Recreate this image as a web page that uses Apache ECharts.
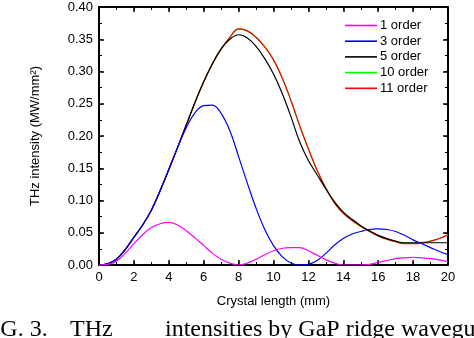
<!DOCTYPE html>
<html><head><meta charset="utf-8">
<script src="https://cdn.jsdelivr.net/npm/echarts@6/dist/echarts.min.js"></script>
<style>html,body{margin:0;padding:0;background:#fff}#c{width:474px;height:338px}</style>
</head><body><div id="c"></div>
<script>
var lengthMM = [0,0.5,1,1.5,2,2.5,3,3.5,4,4.5,5,5.5,6,6.5,7,7.5,8,8.5,9,9.5,10,10.5,11,11.5,12,12.5,13,13.5,14,14.5,15,15.5,16,16.5,17,17.5,18,18.5,19,19.5,20];
var order1 = [0,0.001,0.006,0.018,0.033,0.047,0.058,0.064,0.066,0.062,0.053,0.042,0.030,0.018,0.009,0.003,0.000,0.003,0.009,0.016,0.022,0.026,0.027,0.027,0.022,0.015,0.008,0.003,0.000,0.000,0.000,0.001,0.004,0.007,0.010,0.011,0.012,0.011,0.010,0.008,0.005];
var order3 = [0,0.002,0.009,0.024,0.043,0.062,0.085,0.115,0.148,0.182,0.213,0.236,0.247,0.248,0.235,0.208,0.168,0.127,0.088,0.055,0.030,0.013,0.003,0.000,0.001,0.007,0.018,0.031,0.041,0.048,0.052,0.055,0.056,0.055,0.052,0.046,0.039,0.033,0.027,0.021,0.016];
var order5 = [0,0.002,0.009,0.024,0.043,0.062,0.085,0.115,0.148,0.182,0.217,0.252,0.284,0.312,0.335,0.350,0.357,0.352,0.339,0.320,0.296,0.266,0.230,0.191,0.162,0.140,0.118,0.098,0.082,0.071,0.061,0.053,0.046,0.041,0.037,0.0345,0.0345,0.0345,0.0345,0.0345,0.0345];
var order10 = [0,0.002,0.009,0.024,0.043,0.062,0.085,0.115,0.148,0.182,0.217,0.252,0.284,0.312,0.335,0.353,0.366,0.363,0.353,0.338,0.318,0.290,0.255,0.216,0.180,0.147,0.119,0.096,0.080,0.069,0.060,0.052,0.045,0.040,0.036,0.034,0.034,0.035,0.037,0.041,0.047];
var order11 = [0,0.002,0.009,0.024,0.043,0.062,0.085,0.115,0.148,0.182,0.217,0.252,0.284,0.312,0.335,0.353,0.366,0.363,0.353,0.338,0.318,0.290,0.255,0.216,0.180,0.147,0.119,0.096,0.080,0.069,0.060,0.052,0.045,0.040,0.036,0.033,0.033,0.034,0.037,0.041,0.047];
var seriesNames = ['1 order','3 order','5 order','10 order','11 order'];
var seriesColors = ['#ff00ff','#0000ff','#000000','#00ff00','#ff0000'];
var yTicks = ['0.00','0.05','0.10','0.15','0.20','0.25','0.30','0.35','0.40'];
var xTicks = ['0','2','4','6','8','10','12','14','16','18','20'];
var captionParts = ['FIG. 3.', 'THz', 'intensities by GaP ridge waveguide based'];

var allData = [order1, order3, order5, order10, order11];
function pairs(arr){ return lengthMM.map(function(x,i){ return [x, arr[i]]; }); }
var font = 'Liberation Sans, Arial, sans-serif';
var serif = 'Liberation Serif, Times New Roman, serif';
var chart = echarts.init(document.getElementById('c'));
function tickAxis(base, pos, interval, len, width, showLine){
  var o = {
    type:'value', position:pos, interval:interval,
    axisLine:{show:showLine, onZero:false, lineStyle:{color:'#000', width:2}},
    axisTick:{show:true, inside:true, length:len, lineStyle:{color:'#000', width:width}},
    splitLine:{show:false}, axisLabel:{show:false}
  };
  for (var k in base) o[k] = base[k];
  return o;
}
var xb = {min:0, max:20}, yb = {min:0, max:0.40};
var xMain = tickAxis(xb, 'bottom', 2, 5, 1.5, true);
xMain.axisLabel = {show:true, fontFamily:font, fontSize:13, color:'#000', margin:6,
  formatter:function(v){ return xTicks[Math.round(v/2)]; }};
xMain.name = 'Crystal length (mm)'; xMain.nameLocation = 'middle'; xMain.nameGap = 30;
xMain.nameTextStyle = {fontFamily:font, fontSize:13, color:'#000'};
var yMain = tickAxis(yb, 'left', 0.05, 5, 1.5, true);
yMain.axisLabel = {show:true, fontFamily:font, fontSize:13, color:'#000', margin:6,
  formatter:function(v){ return yTicks[Math.round(v/0.05)]; }};
yMain.name = 'THz intensity (MW/mm\u00B2)'; yMain.nameLocation = 'middle'; yMain.nameGap = 57; yMain.nameRotate = 90;
yMain.nameTextStyle = {fontFamily:font, fontSize:13, color:'#000'};
var order = [3,4,2,1,0];
var capX = [-21, 70, 165];
chart.setOption({
  animation:false,
  backgroundColor:'#fff',
  grid:{left:99, right:26, top:7, bottom:73},
  legend:{
    orient:'vertical', left:340, top:14, itemWidth:32, itemHeight:14, itemGap:2.7,
    icon:'path://M0,0 L30,0 L30,1.5 L0,1.5 Z',
    data:seriesNames, textStyle:{fontFamily:font, fontSize:13, color:'#000', padding:[0,0,0,-2]}
  },
  xAxis:[xMain, tickAxis(xb,'bottom',1,3,1,false), tickAxis(xb,'top',2,5,1.5,true), tickAxis(xb,'top',1,3,1,false)],
  yAxis:[yMain, tickAxis(yb,'left',0.025,3,1,false), tickAxis(yb,'right',0.05,5,1.5,true), tickAxis(yb,'right',0.025,3,1,false)],
  graphic: captionParts.map(function(t, i){
    return {
      type:'text', x:capX[i], y:318, silent:true,
      style:{text:t, fontFamily:serif, fontSize:24, fill:'#000'}
    };
  }),
  series: order.map(function(k, j){
    return {
      name:seriesNames[k], type:'line', smooth:0.4, symbol:'none', z:2+j,
      data:pairs(allData[k]), color:seriesColors[k],
      lineStyle:{color:seriesColors[k], width:1.2}
    };
  })
});
</script></body></html>
